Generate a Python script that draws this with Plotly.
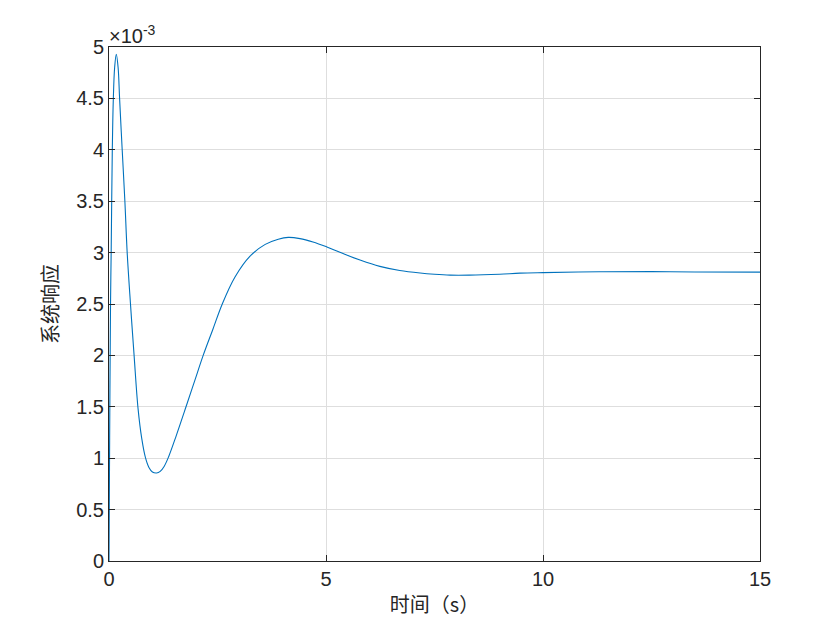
import plotly.graph_objects as go

# time (s)
t = [0, 0.015, 0.035, 0.05, 0.076, 0.10, 0.13, 0.168, 0.21, 0.244, 0.304, 0.366, 0.419,
     0.495, 0.578, 0.67, 0.755, 0.84, 0.92, 1.0, 1.097, 1.18, 1.27, 1.37, 1.55, 1.79,
     1.98, 2.17, 2.39, 2.61, 2.9, 3.25, 3.6, 3.9, 4.13, 4.4, 4.7, 5.02, 5.32, 5.8,
     6.24, 6.7, 7.17, 7.5, 7.86, 8.3, 9.0, 9.47, 10.0, 11.3, 12.5, 13.5, 15.0]
# system response (x 1e-3)
y = [0, 1.2, 2.5, 3.0, 4.0, 4.5, 4.8, 4.93, 4.8, 4.5, 4.0, 3.5, 3.0,
     2.5, 2.0, 1.48, 1.19, 1.005, 0.91, 0.866, 0.856, 0.872, 0.92, 1.01, 1.22, 1.52,
     1.76, 2.0, 2.25, 2.5, 2.76, 2.965, 3.08, 3.13, 3.148, 3.136, 3.103, 3.055, 3.004, 2.925,
     2.866, 2.826, 2.801, 2.789, 2.781, 2.781, 2.79, 2.80, 2.805, 2.813, 2.815, 2.812, 2.81]

xticks = [0, 5, 10, 15]
yticks = [0, 0.5, 1, 1.5, 2, 2.5, 3, 3.5, 4, 4.5, 5]
ytick_text = ["0", "0.5", "1", "1.5", "2", "2.5", "3", "3.5", "4", "4.5", "5"]

axis_col = "#262626"
grid_col = "#dedede"
tick_font = dict(family="Liberation Sans, Arial", size=20, color=axis_col)
cjk = "Noto Sans CJK SC"

fig = go.Figure()
fig.add_trace(go.Scatter(x=t, y=y, mode="lines",
                         line=dict(color="#0072BD", width=1.1, shape="spline", smoothing=1.0),
                         hoverinfo="skip", showlegend=False))

fig.update_layout(
    width=840, height=630,
    paper_bgcolor="white", plot_bgcolor="white",
    margin=dict(l=101, r=88, t=39, b=77),
    xaxis=dict(range=[0, 15], tickvals=xticks, ticks="inside", ticklen=6,
               tickcolor=axis_col, showline=True, linecolor=axis_col, linewidth=1,
               mirror="allticks", showgrid=True, gridcolor=grid_col, gridwidth=1,
               zeroline=False, tickfont=tick_font,
               title=dict(text="时间（s）", font=dict(family=cjk, size=20, color=axis_col),
                          standoff=8)),
    yaxis=dict(range=[0, 5], tickvals=yticks, ticktext=ytick_text, ticks="inside",
               ticklen=6, tickcolor=axis_col, showline=True, linecolor=axis_col,
               linewidth=1, mirror="allticks", showgrid=True, gridcolor=grid_col,
               gridwidth=1, zeroline=False, tickfont=tick_font,
               title=dict(text="系统响应", font=dict(family=cjk, size=20, color=axis_col),
                          standoff=12)),
    annotations=[dict(text="×10<sup>-3</sup>", xref="paper", yref="paper",
                      x=0, y=1.0, xanchor="left", yanchor="bottom", showarrow=False,
                      font=dict(family="Liberation Sans, Arial", size=20, color=axis_col),
                      yshift=-2, xshift=-2)],
)

fig.write_html("out.html")
